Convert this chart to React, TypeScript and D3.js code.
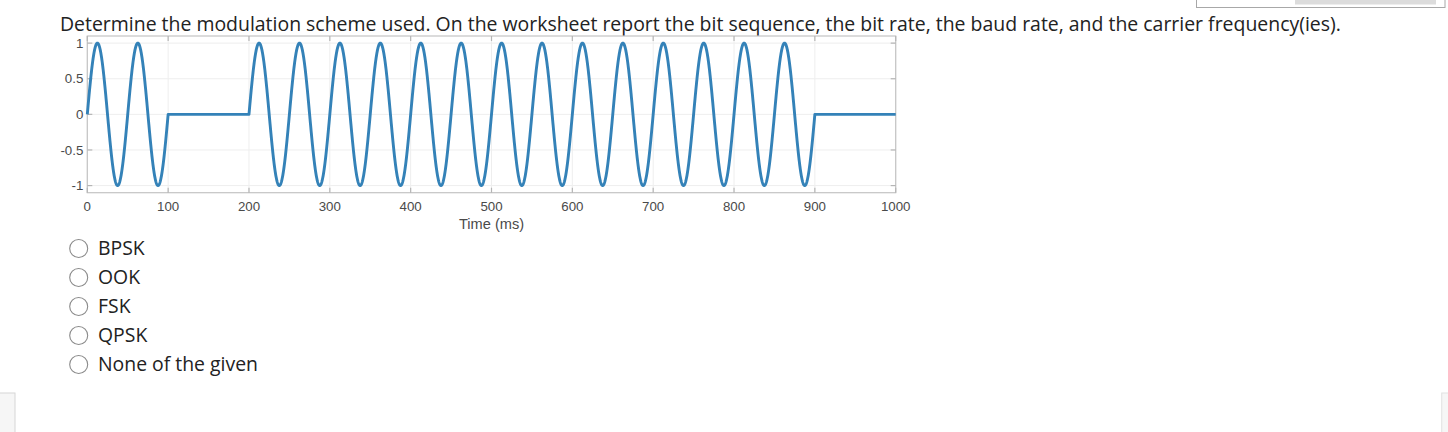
import React from "react";
import * as d3 from "d3";

// ---- data ----
const questionText =
  "Determine the modulation scheme used. On the worksheet report the bit sequence, the bit rate, the baud rate, and the carrier frequency(ies).";
const bits = [1, 0, 1, 1, 1, 1, 1, 1, 1, 0];
const bitDurationMs = 100;
const carrierHz = 20;
const xTicks = [0, 100, 200, 300, 400, 500, 600, 700, 800, 900, 1000];
const yTicks = [-1, -0.5, 0, 0.5, 1];
const yTickLabels = ["-1", "-0.5", "0", "0.5", "1"];
const xAxisLabel = "Time (ms)";
const options = ["BPSK", "OOK", "FSK", "QPSK", "None of the given"];

const W = 1448;
const H = 432;

export default function App() {
  const x = d3.scaleLinear().domain([0, 1000]).range([87.3, 895.7]);
  const y = d3.scaleLinear().domain([-1.1, 1.1]).range([192.7, 36]);

  // build the OOK signal from the bit sequence
  const samples: [number, number][] = [];
  const totalMs = bits.length * bitDurationMs;
  for (let i = 0; i <= totalMs * 4; i++) {
    const t = i / 4;
    const idx = Math.min(bits.length - 1, Math.floor(t / bitDurationMs));
    samples.push([t, bits[idx] * Math.sin((2 * Math.PI * carrierHz * t) / 1000)]);
  }
  const line = d3
    .line<[number, number]>()
    .x((d) => x(d[0]))
    .y((d) => y(d[1]));

  const [x0, x1] = x.range();
  const [yb, yt] = y.range();
  const tickLen = 5;
  const axisColor = "#c4c4c4";
  const labelColor = "#4a4a4a";
  const axisFont = "'Liberation Sans', Arial, Helvetica, sans-serif";
  const pageFont = "'Open Sans', 'Noto Sans', sans-serif";

  return (
    <svg
      width={W}
      height={H}
      style={{ position: "absolute", left: 0, top: 0, display: "block" }}
    >
      <rect x={0} y={0} width={W} height={H} fill="#ffffff" />

      {/* top-right widget fragment */}
      <rect x={1196.5} y={-2} width={248.5} height={9.5} fill="#ffffff" stroke="#a8a8a8" strokeWidth={1} />
      <rect x={1295} y={0} width={141} height={4.5} fill="#dcdcdc" />

      {/* question text */}
      <text x={60} y={31} fontFamily={pageFont} fontSize={19.45} fill="#222222">
        {questionText}
      </text>

      {/* grid */}
      <g stroke="#eeeeee" strokeWidth={1}>
        {xTicks.map((t) => (
          <line key={"gx" + t} x1={x(t)} x2={x(t)} y1={yt} y2={yb} />
        ))}
        {yTicks.map((t) => (
          <line key={"gy" + t} x1={x0} x2={x1} y1={y(t)} y2={y(t)} />
        ))}
      </g>

      {/* axes box */}
      <rect x={x0} y={yt} width={x1 - x0} height={yb - yt} fill="none" stroke={axisColor} strokeWidth={1.2} />

      {/* ticks */}
      <g stroke="#b5b5b5" strokeWidth={1.2}>
        {xTicks.map((t) => (
          <g key={"tx" + t}>
            <line x1={x(t)} x2={x(t)} y1={yb} y2={yb - tickLen} />
            <line x1={x(t)} x2={x(t)} y1={yt} y2={yt + tickLen} />
          </g>
        ))}
        {yTicks.map((t) => (
          <g key={"ty" + t}>
            <line x1={x0} x2={x0 + tickLen} y1={y(t)} y2={y(t)} />
            <line x1={x1} x2={x1 - tickLen} y1={y(t)} y2={y(t)} />
          </g>
        ))}
      </g>

      {/* signal */}
      <path d={line(samples) || ""} fill="none" stroke="#3482b8" strokeWidth={2.9} strokeLinejoin="round" />

      {/* tick labels */}
      <g fontFamily={axisFont} fontSize={13.3} fill={labelColor}>
        {xTicks.map((t) => (
          <text key={"lx" + t} x={x(t)} y={211} textAnchor="middle">
            {String(t)}
          </text>
        ))}
        {yTicks.map((t, i) => (
          <text key={"ly" + t} x={x0 - 4} y={y(t) + 4.6} textAnchor="end">
            {yTickLabels[i]}
          </text>
        ))}
      </g>
      <text x={491.5} y={229} textAnchor="middle" fontFamily={axisFont} fontSize={14.6} fill={labelColor}>
        {xAxisLabel}
      </text>

      {/* radio options */}
      {options.map((o, i) => {
        const cy = 248.5 + i * 29;
        return (
          <g key={o}>
            <circle cx={78.7} cy={cy} r={9} fill="#ffffff" stroke="#8a8a8a" strokeWidth={1.1} />
            <text x={98} y={cy + 6.8} fontFamily={pageFont} fontSize={19.4} fill="#222222">
              {o}
            </text>
          </g>
        );
      })}

      {/* bottom panel fragments */}
      <rect x={-1} y={393} width={16} height={45} fill="#f6f6f6" stroke="#d6d6d6" strokeWidth={1} />
      <rect x={1441.7} y={393} width={10} height={45} fill="#f6f6f6" stroke="#e2e2e2" strokeWidth={1} />
    </svg>
  );
}
